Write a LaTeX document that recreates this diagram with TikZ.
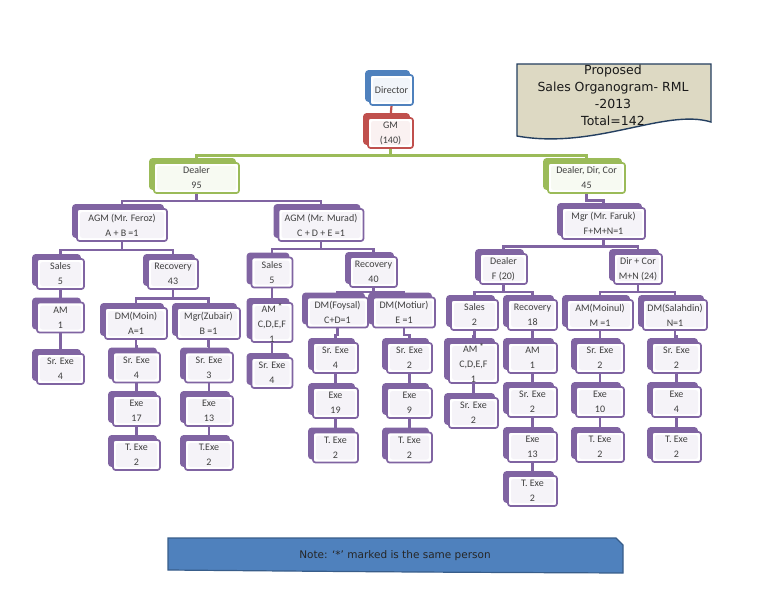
\documentclass[tikz,border=0pt]{standalone}
\usepackage{fontspec}
\setmainfont{Carlito}
\newfontfamily\titlefont{DejaVu Sans}
\usetikzlibrary{calc,shadows,backgrounds}
\definecolor{purp}{HTML}{8064A2}
\definecolor{grn}{HTML}{9BBB59}
\definecolor{redd}{HTML}{C0504D}
\definecolor{blu}{HTML}{4F81BD}
\definecolor{navy}{HTML}{243F60}
\definecolor{tan}{HTML}{DDD9C3}
\definecolor{noteedge}{HTML}{385D8A}

\begin{document}
\begin{tikzpicture}[x=1pt, y=-1pt,
    box/.style={draw=#1, fill=white, line width=1.7pt, rounded corners=2.5pt,
        minimum width=47pt, minimum height=30pt, inner sep=0pt, align=center,
        font=\fontsize{10}{15}\selectfont, text=black!75,
        copy shadow={shadow xshift=-4pt, shadow yshift=4pt, fill=#1, draw=#1},
        path picture={\fill[#1!8] ([shift={(3pt,-3pt)}]path picture bounding box.north west) rectangle ([shift={(-3pt,3pt)}]path picture bounding box.south east);}},
    box/.default=purp,
    conn/.style={draw=#1, line width=2.2pt},
    conn/.default=purp]
    \useasboundingbox (0,0) rectangle (768,594);

    % top of the chart
        \node[box=blu, minimum width=43pt] (dir) at (391.5,90) {Director};
        \node[box=redd, minimum width=45pt] (gm) at (390.5,133) {GM\\(140)};
        \node[box=grn, minimum width=85pt] (dealer) at (196.5,178) {Dealer\\95};
        \node[box=grn, minimum width=77pt] (ddc) at (586.5,178) {Dealer, Dir, Cor\\45};

    % second row
        \node[box, minimum width=90pt, minimum height=32pt] (feroz) at (122,225) {AGM (Mr. Feroz)\\A + B =1};
        \node[box, minimum width=85pt, minimum height=32pt] (murad) at (321,225) {AGM (Mr. Murad)\\C + D + E =1};
        \node[box, minimum width=83pt, minimum height=31pt] (faruk) at (603.5,223.5) {Mgr (Mr. Faruk)\\F+M+N=1};

    % third row
        \node[box] (salesA) at (60.5,274) {Sales\\5};
        \node[box, minimum width=50pt] (recA) at (173,274) {Recovery\\43};
        \node[box, minimum width=41pt] (salesB) at (272,272.5) {Sales\\5};
        \node[box] (recB) at (373.5,272) {Recovery\\40};
        \node[box] (dealF) at (503.5,269) {Dealer\\F (20)};
        \node[box, minimum width=48pt] (dircor) at (638,269) {Dir + Cor\\M+N (24)};

    % fourth row
        \node[box] (amA) at (60.5,317.5) {AM\\1};
        \node[box, minimum width=62pt, minimum height=31pt] (moin) at (136,323.5) {DM(Moin)\\A=1};
        \node[box, minimum width=63pt, minimum height=31pt] (zubair) at (208.5,323.5) {Mgr(Zubair)\\B =1};
        \node[box, minimum width=41pt, minimum height=39pt] (amB) at (272,322.5) {AM\,\raisebox{2pt}{*}\\C,D,E,F\\1};
        \node[box, minimum width=61pt] (foysal) at (337.5,312.5) {DM(Foysal)\\C+D=1};
        \node[box, minimum width=62pt] (motiur) at (404,312.5) {DM(Motiur)\\E =1};
        \node[box] (salesC) at (474.5,315) {Sales\\2};
        \node[box, minimum width=49pt] (recC) at (532.5,315) {Recovery\\18};
        \node[box, minimum width=66pt] (moinul) at (600,315) {AM(Moinul)\\M =1};
        \node[box, minimum width=64pt] (salah) at (675,315) {DM(Salahdin)\\N=1};

    % fifth row
        \node[box] (srA) at (60.5,369) {Sr. Exe\\4};
        \node[box] (srMoin) at (136.5,367.5) {Sr. Exe\\4};
        \node[box, minimum width=48pt] (srZub) at (209,367.5) {Sr. Exe\\3};
        \node[box, minimum width=41pt] (srB) at (272,373) {Sr. Exe\\4};
        \node[box, minimum width=45pt] (srFoy) at (335.5,358) {Sr. Exe\\4};
        \node[box, minimum width=45pt] (srMot) at (409.5,358) {Sr. Exe\\2};
        \node[box, minimum width=49pt, minimum height=40pt] (amC) at (473.5,363) {AM\,\raisebox{2pt}{*}\\C,D,E,F\\1};
        \node[box, minimum width=49pt] (amR) at (532.5,358) {AM\\1};
        \node[box, minimum width=48pt] (srMoi) at (600,358) {Sr. Exe\\2};
        \node[box, minimum width=49pt] (srSal) at (676.5,358) {Sr. Exe\\2};

    % sixth row
        \node[box] (exeMoin) at (136.5,411) {Exe\\17};
        \node[box, minimum width=48pt] (exeZub) at (209,411) {Exe\\13};
        \node[box, minimum width=45pt] (exeFoy) at (335.5,403) {Exe\\19};
        \node[box, minimum width=45pt] (exeMot) at (409.5,403) {Exe\\9};
        \node[box, minimum width=49pt] (srC) at (473.5,413) {Sr. Exe\\2};
        \node[box, minimum width=49pt] (srR) at (532.5,402) {Sr. Exe\\2};
        \node[box, minimum width=48pt] (exeMoi) at (600,402) {Exe\\10};
        \node[box, minimum width=49pt] (exeSal) at (676.5,402) {Exe\\4};

    % seventh and eighth rows
        \node[box] (texeMoin) at (136.5,455) {T. Exe\\2};
        \node[box, minimum width=48pt] (texeZub) at (209,455) {T.Exe\\2};
        \node[box, minimum width=45pt] (texeFoy) at (335.5,447.5) {T. Exe\\2};
        \node[box, minimum width=45pt] (texeMot) at (409.5,447.5) {T. Exe\\2};
        \node[box, minimum width=49pt] (exeR) at (532.5,447) {Exe\\13};
        \node[box, minimum width=48pt] (texeMoi) at (600,447) {T. Exe\\2};
        \node[box, minimum width=49pt] (texeSal) at (676.5,447) {T. Exe\\2};
        \node[box, minimum width=49pt] (texeR) at (532.5,491) {T. Exe\\2};

    % connectors behind the boxes
    \begin{scope}[on background layer]
        \draw[conn=redd] (dir.south) -- (gm.north);
        \foreach \a/\b in {gm/dealer, gm/ddc}
            \draw[conn=grn] (\a.south) |- ($(\a.south)!0.5!(\b.north)$) -| (\b.north);
        \foreach \a/\b in {dealer/feroz, dealer/murad, ddc/faruk,
                feroz/salesA, feroz/recA, salesA/amA, amA/srA,
                recA/moin, recA/zubair, moin/srMoin, srMoin/exeMoin, exeMoin/texeMoin,
                zubair/srZub, srZub/exeZub, exeZub/texeZub,
                murad/salesB, murad/recB, salesB/amB, amB/srB,
                recB/foysal, recB/motiur, foysal/srFoy, srFoy/exeFoy, exeFoy/texeFoy,
                motiur/srMot, srMot/exeMot, exeMot/texeMot,
                faruk/dealF, faruk/dircor, dealF/salesC, dealF/recC, salesC/amC, amC/srC,
                recC/amR, amR/srR, srR/exeR, exeR/texeR,
                dircor/moinul, dircor/salah, moinul/srMoi, srMoi/exeMoi, exeMoi/texeMoi,
                salah/srSal, srSal/exeSal, exeSal/texeSal}
            \draw[conn] (\a.south) |- ($(\a.south)!0.5!(\b.north)$) -| (\b.north);
    \end{scope}

    % title card
        \draw[draw=navy, line width=1.4pt, fill=tan] (517,64) -- (711,64) -- (711,122)
            .. controls (665,108) and (595,150) .. (517,136) -- cycle;
        \node[font=\titlefont\fontsize{12.5}{17}\selectfont, align=center, text=black!90] (title) at (613,95)
            {Proposed\\Sales Organogram- RML\\-2013\\Total=142};

    % note bar
        \draw[draw=noteedge, line width=1.2pt, fill=blu] (168,538) -- (616,538) -- (623,545) -- (623,573)
            .. controls (400,572) .. (168,570) -- cycle;
        \node[font=\titlefont\fontsize{10.5}{12}\selectfont, text=black!85] (note) at (395,556) {Note: ‘*’ marked is the same person};
\end{tikzpicture}
\end{document}
